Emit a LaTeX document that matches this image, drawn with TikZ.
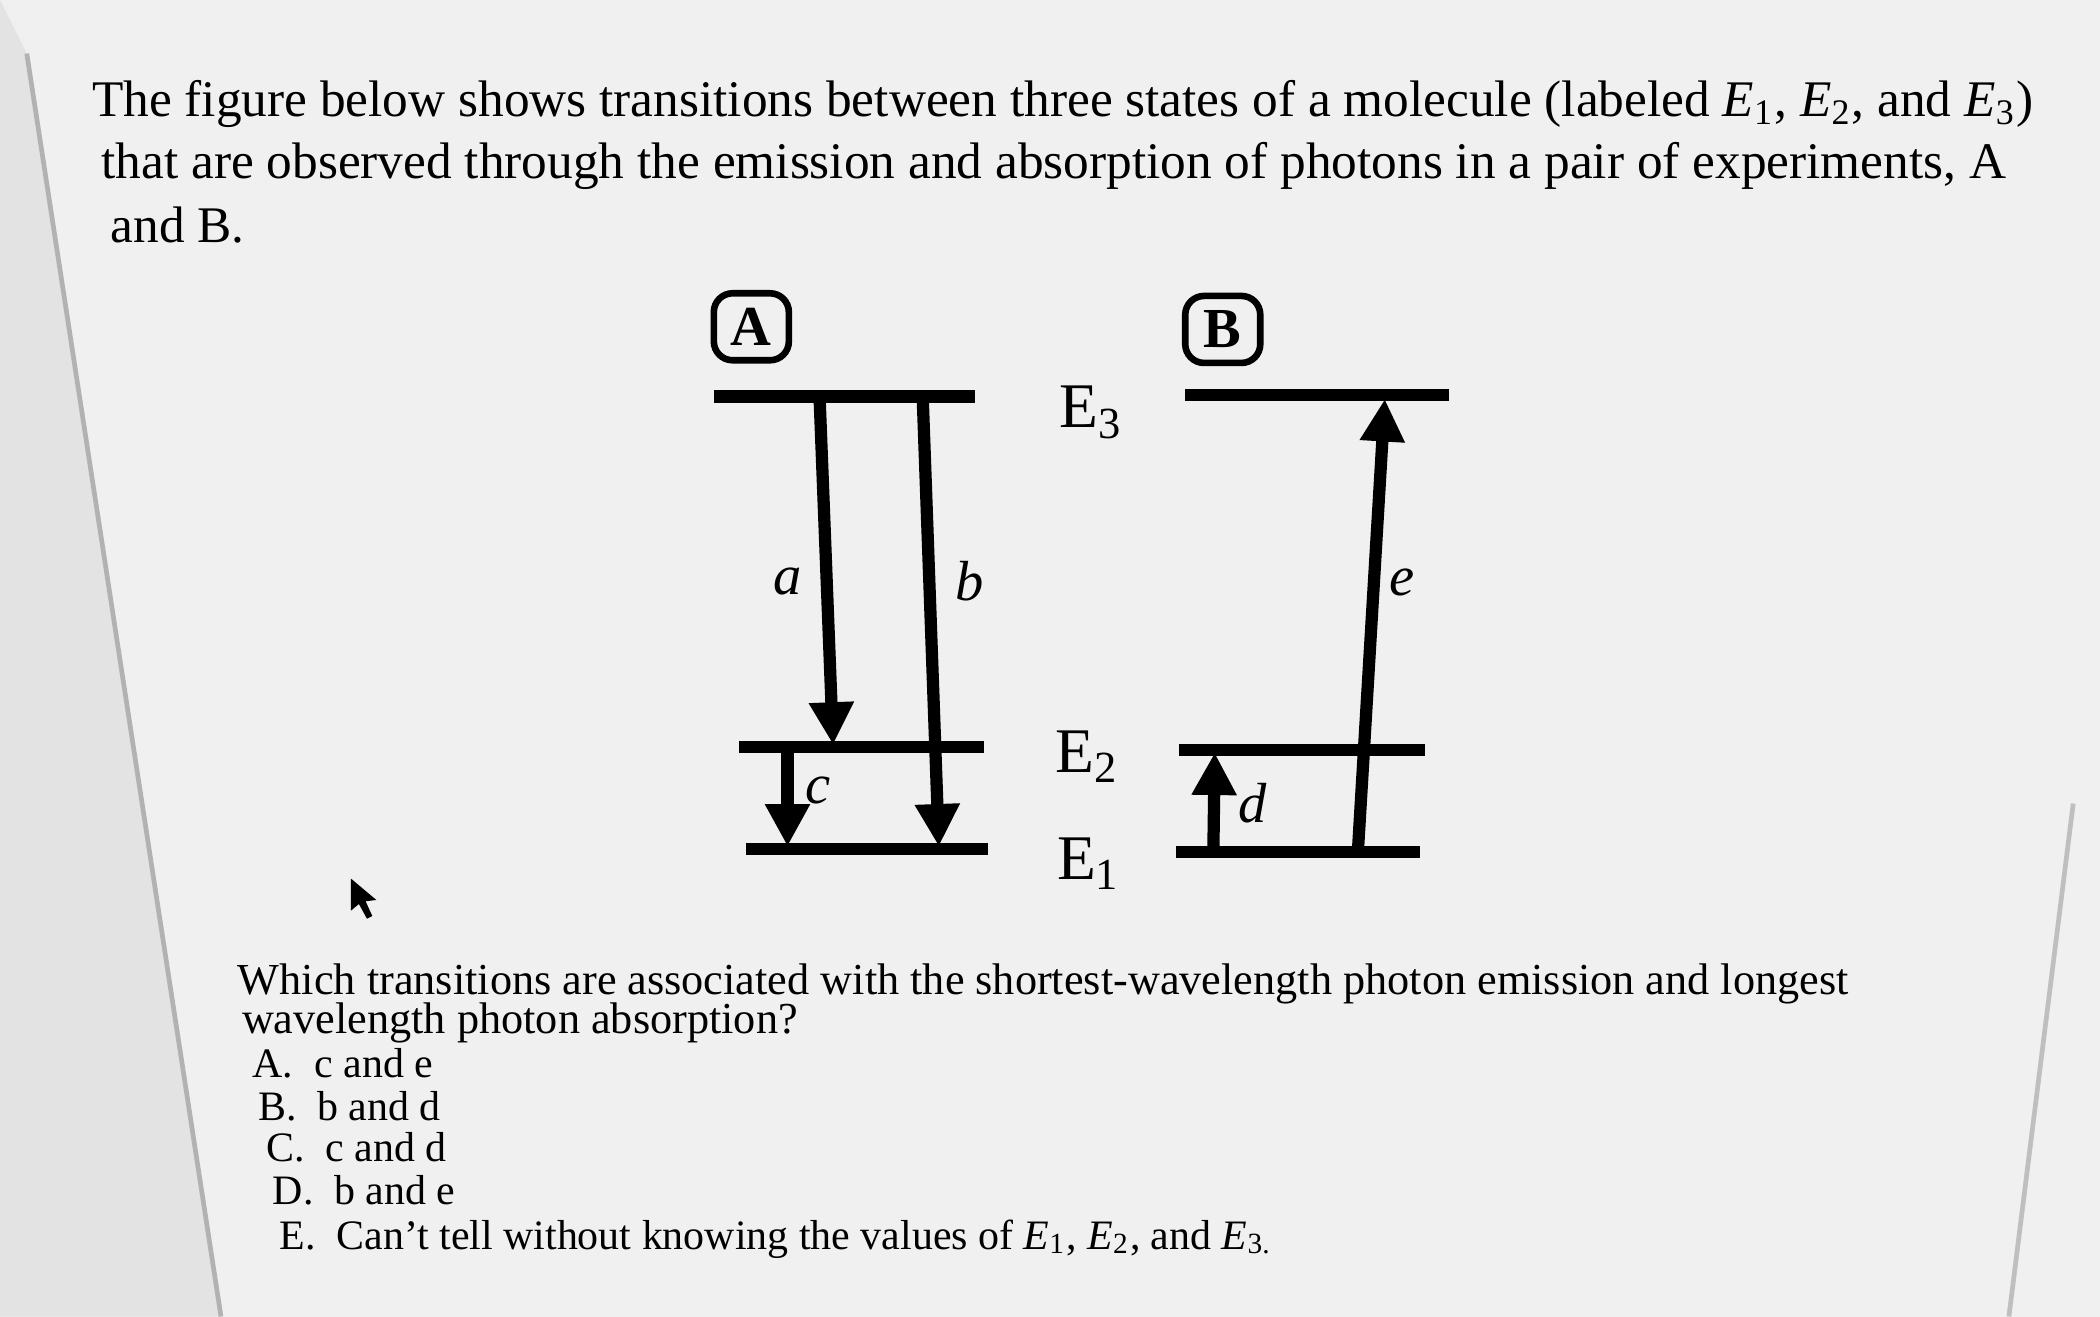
\documentclass[tikz,border=0pt]{standalone}
\usepackage{fontspec}
\setmainfont{Liberation Serif}
\usetikzlibrary{arrows.meta}
\begin{document}
\begin{tikzpicture}[x=0.01cm,y=-0.01cm,
 lvl/.style={line width=2.6pt},
 tr/.style={line width=2.6pt,-{Triangle[length=9pt,width=9pt]}},
 txt/.style={anchor=west,inner sep=0pt,font=\fontsize{10.9pt}{12pt}\selectfont},
 qtxt/.style={anchor=west,inner sep=0pt,font=\fontsize{9.4pt}{11pt}\selectfont},
 otxt/.style={anchor=west,inner sep=0pt,font=\fontsize{8.9pt}{10pt}\selectfont},
 lab/.style={font=\fontsize{12pt}{14pt}\selectfont\itshape},
 elab/.style={font=\fontsize{13.5pt}{16pt}\selectfont},
 boxlab/.style={draw,line width=1.4pt,rounded corners=4pt,inner sep=0pt,font=\fontsize{12pt}{14pt}\selectfont\bfseries,minimum width=0.56cm,minimum height=0.5cm}]
\useasboundingbox (0,0) rectangle (1568,983);
\fill[gray!12] (0,0) rectangle (1568,983);
\fill[gray!22] (0,0) -- (20,40) -- (165,983) -- (0,983) -- cycle;
\draw[gray!60,line width=1pt] (20,40) -- (165,983);
\draw[gray!50,line width=1pt] (1548,600) -- (1500,983);
\node[txt] (t1) at (68,78) {The figure below shows transitions between three states of a molecule (labeled \textit{E}\textsubscript{1}, \textit{E}\textsubscript{2}, and \textit{E}\textsubscript{3})};
\node[txt] (t2) at (75,124) {that are observed through the emission and absorption of photons in a pair of experiments, A};
\node[txt] (t3) at (82,168) {and B.};
\node[boxlab] (A) at (561,244) {A};
\node[boxlab] (B) at (913,246) {B};
% levels A
\coordinate (a3l) at (533,296); \coordinate (a3r) at (728,296);
\coordinate (a2l) at (552,558); \coordinate (a2r) at (735,558);
\coordinate (a1l) at (557,634); \coordinate (a1r) at (738,634);
\draw[lvl] (a3l) -- (a3r); \draw[lvl] (a2l) -- (a2r); \draw[lvl] (a1l) -- (a1r);
\coordinate (as) at (612,298); \coordinate (ae) at (622,556);
\coordinate (bs) at (689,298); \coordinate (be) at (701,632);
\coordinate (cs) at (588,560); \coordinate (ce) at (588,632);
\draw[tr] (as) -- (ae); \draw[tr] (bs) -- (be); \draw[tr] (cs) -- (ce);
\node[lab] (la) at (588,434) {a};
\node[lab] (lb) at (724,434) {b};
\node[lab] (lc) at (611,590) {c};
\node[elab] (E3) at (815,308) {E\textsubscript{3}};
\node[elab] (E2) at (812,565) {E\textsubscript{2}};
\node[elab] (E1) at (813,645) {E\textsubscript{1}};
% levels B
\coordinate (b3l) at (885,295); \coordinate (b3r) at (1082,295);
\coordinate (b2l) at (880,560); \coordinate (b2r) at (1064,560);
\coordinate (b1l) at (878,636); \coordinate (b1r) at (1060,636);
\draw[lvl] (b3l) -- (b3r); \draw[lvl] (b2l) -- (b2r); \draw[lvl] (b1l) -- (b1r);
\coordinate (es) at (1014,634); \coordinate (ee) at (1034,298);
\coordinate (ds) at (906,634); \coordinate (de) at (907,562);
\draw[tr] (es) -- (ee); \draw[tr] (ds) -- (de);
\node[lab] (le) at (1047,435) {e};
\node[lab] (ld) at (935,600) {d};
% cursor
\fill[black] (262,656) -- (262,680) -- (268,675) -- (274,686) -- (278,684) -- (273,673) -- (281,672) -- cycle;
% question
\node[qtxt] (q1) at (177,735) {Which transitions are associated with the shortest-wavelength photon emission and longest};
\node[qtxt] (q2) at (180,764) {wavelength photon absorption?};
\node[otxt] (o1) at (188,794) {A.\ \ c and e};
\node[otxt] (o2) at (192,826) {B.\ \ b and d};
\node[otxt] (o3) at (198,857) {C.\ \ c and d};
\node[otxt] (o4) at (203,889) {D.\ \ b and e};
\node[otxt] (o5) at (208,925) {E.\ \ Can't tell without knowing the values of \textit{E}\textsubscript{1}, \textit{E}\textsubscript{2}, and \textit{E}\textsubscript{3.}};
\end{tikzpicture}
\end{document}
